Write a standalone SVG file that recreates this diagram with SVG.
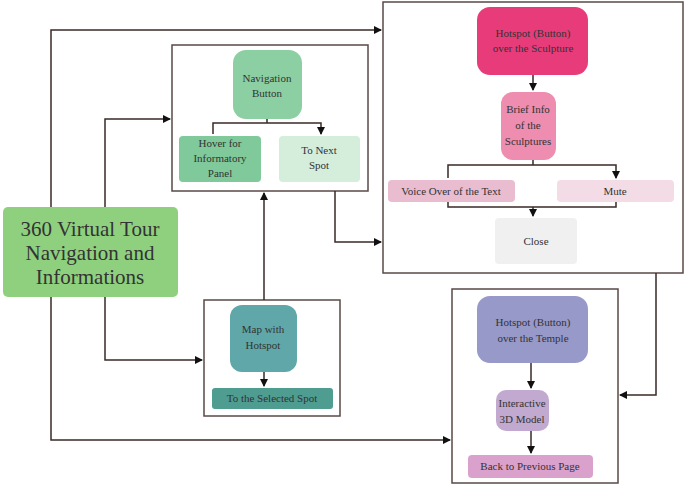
<svg xmlns="http://www.w3.org/2000/svg" width="685" height="485" viewBox="0 0 685 485">
<style>
text{font-family:"Liberation Serif",serif;font-size:11px;fill:#333;text-anchor:middle}
.frame{fill:#fff;stroke:#5a4a48;stroke-width:1.5}
.c{fill:none;stroke:#3a2a28;stroke-width:1.5;marker-end:url(#a)}
</style>
<defs><marker id="a" markerWidth="8" markerHeight="8" refX="7" refY="4" orient="auto" markerUnits="userSpaceOnUse"><path d="M0,0L8,4L0,8z" fill="#111"/></marker></defs>
<rect width="685" height="485" fill="#fff"/>
<g id="frames">
<rect class="frame" x="383" y="2" width="300" height="271"/>
<rect class="frame" x="172" y="45" width="196" height="146"/>
<rect class="frame" x="452" y="289" width="166" height="194"/>
<rect class="frame" x="204" y="300" width="136" height="116"/>
</g>
<g id="connectors">
<path class="c" d="M51,207V30H381"/>
<path class="c" d="M105,207V119H170"/>
<path class="c" d="M335,191V242H381"/>
<path class="c" d="M264,300V193"/>
<path class="c" d="M105,297V360H202"/>
<path class="c" d="M51,297V440H450"/>
<path class="c" d="M656,273V395H620"/>
<path class="c" d="M267,119V123H213V134M267,123H321V134"/>
<path class="c" d="M533,75V90"/>
<path class="c" d="M533,160V165H448V178M533,165H616V178"/>
<path class="c" d="M448,202V207H616V202M533,207V216"/>
<path class="c" d="M264,372V386"/>
<path class="c" d="M531,363V388"/>
<path class="c" d="M531,431V453"/>
</g>
<g id="main"><rect x="3" y="207" width="175" height="90" rx="5" fill="#8fd07e"/>
<text x="90" y="236" style="font-size:21px">360 Virtual Tour</text><text x="90" y="260" style="font-size:21px">Navigation and</text><text x="90" y="284" style="font-size:21px">Informations</text></g>
<g id="nav"><rect x="233" y="50" width="69" height="69" rx="13" fill="#8ccfa3"/><text x="267" y="82">Navigation</text><text x="267" y="97">Button</text></g>
<g id="hover"><rect x="179" y="136" width="82" height="46" rx="4" fill="#7fc99a"/><text x="220" y="147">Hover for</text><text x="220" y="162">Informatory</text><text x="220" y="177">Panel</text></g>
<g id="next"><rect x="279" y="136" width="81" height="46" rx="4" fill="#d4eedb"/><text x="319" y="154">To Next</text><text x="319" y="169">Spot</text></g>
<g id="hs"><rect x="477" y="7" width="111" height="68" rx="13" fill="#e83c7a"/><text x="533" y="37">Hotspot (Button)</text><text x="533" y="52">over the Sculpture</text></g>
<g id="brief"><rect x="501" y="92" width="55" height="68" rx="12" fill="#ee8db0"/><text x="528" y="113">Brief Info</text><text x="528" y="129">of the</text><text x="528" y="145">Sculptures</text></g>
<g id="voice"><rect x="388" y="180" width="127" height="22" rx="4" fill="#e9bcd0"/><text x="451" y="195">Voice Over of the Text</text></g>
<g id="mute"><rect x="557" y="180" width="117" height="22" rx="4" fill="#f3dce5"/><text x="615" y="195">Mute</text></g>
<g id="close"><rect x="495" y="218" width="82" height="46" rx="4" fill="#f1f0f0"/><text x="536" y="245">Close</text></g>
<g id="th"><rect x="477" y="296" width="111" height="67" rx="13" fill="#9799c9"/><text x="533" y="326">Hotspot (Button)</text><text x="533" y="342">over the Temple</text></g>
<g id="i3d"><rect x="496" y="390" width="53" height="41" rx="10" fill="#c1a9d0"/><text x="522" y="407">Interactive</text><text x="522" y="423">3D Model</text></g>
<g id="back"><rect x="468" y="455" width="125" height="23" rx="4" fill="#d9a1cc"/><text x="530" y="470">Back to Previous Page</text></g>
<g id="map"><rect x="230" y="305" width="67" height="67" rx="12" fill="#5fa7a8"/><text x="263" y="333">Map with</text><text x="263" y="349">Hotspot</text></g>
<g id="sel"><rect x="212" y="388" width="121" height="21" rx="3" fill="#4f9c90"/><text x="272" y="402">To the Selected Spot</text></g>
</svg>
